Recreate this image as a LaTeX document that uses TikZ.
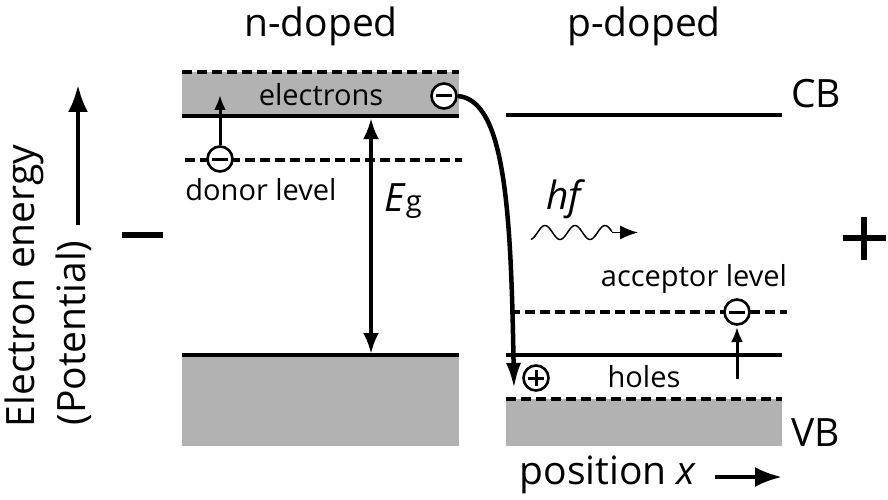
\documentclass[tikz,border=0pt]{standalone}
\usepackage{fontspec}
\setmainfont{Open Sans}
\usetikzlibrary{arrows.meta}
\definecolor{bandgray}{gray}{0.70}
\tikzset{
	level/.style={line width=4pt},
	dashlevel/.style={line width=3.6pt,dash pattern=on 10pt off 5pt},
	carrier/.style={circle,draw,fill=white,line width=2.6pt,minimum size=25pt,inner sep=0pt},
	thinarrow/.style={line width=3pt,-{Latex[length=15pt,width=12pt]}},
	bigarrow/.style={line width=4pt,-{Latex[length=27pt,width=20pt]}},
	lab/.style={inner sep=0pt,font=\fontsize{29}{29}\selectfont},
	biglab/.style={inner sep=0pt,font=\fontsize{39}{39}\selectfont}
}
\begin{document}
\begin{tikzpicture}[x=1pt,y=-1pt]
	\useasboundingbox (0,0) rectangle (888,500);
	% bands
	\fill[bandgray] (182,72) rectangle (459,116);
	\fill[bandgray] (182,355) rectangle (459,446);
	\fill[bandgray] (506,399) rectangle (782,446);
	% levels
	\draw[dashlevel] (182,72)--(459,72);
	\draw[level] (182,116)--(459,116);
	\draw[dashlevel] (185,160)--(462,160);
	\draw[level] (182,355)--(459,355);
	\draw[level] (506,115)--(782,115);
	\draw[dashlevel] (510,312)--(787,312);
	\draw[level] (506,355)--(782,355);
	\draw[dashlevel] (506,399)--(782,399);
	% carriers
	\node[carrier] (donor) at (220,159) {};
	\node[carrier] (elec) at (444,96) {};
	\node[carrier] (accept) at (737,312) {};
	\node[carrier] (hole) at (536,378) {};
	\foreach \c in {donor,elec,accept,hole}
		{\draw[line width=3pt] (\c.center) ++(-8,0)--++(16,0);};
	\draw[line width=3pt] (hole.center) ++(0,-8)--++(0,16);
	% labels
	\node[biglab] (ndoped) at (321,26) {n-doped};
	\node[biglab] (pdoped) at (644,26) {p-doped};
	\node[biglab] (cb) at (816,94) {CB};
	\node[biglab] (vb) at (816,433) {VB};
	\node[lab] (electrons) at (321,95) {electrons};
	\node[lab] (donorlab) at (261,190) {donor level};
	\node[lab] (acceptlab) at (694,279) {acceptor level};
	\node[lab] (holes) at (644,377) {holes};
	\node[biglab] (gap) at (403,201) {\textit{E}{\fontsize{29}{29}\selectfont g}};
	\node[biglab] (hf) at (566,199) {\textit{hf}};
	\node[biglab] (pos) at (608,475) {position \textit{x}};
	\node[biglab,rotate=90] (energy) at (24,286) {Electron energy};
	\node[biglab,rotate=90] (potential) at (74,333) {(Potential)};
	\node[inner sep=0pt] (minus) at (142,235) {\rule{41pt}{6pt}};
	\node[inner sep=0pt] (plus) at (864,238) {\rule{43pt}{6pt}};
	\node[inner sep=0pt] (plusb) at (plus.center) {\rule{6pt}{43pt}};
	% helper points
	\coordinate (upa) at (78,225);
	\coordinate (upb) at (78,85);
	\coordinate (posa) at (715,477);
	\coordinate (posb) at (782,477);
	\coordinate (gapa) at (371,118);
	\coordinate (gapb) at (371,354);
	\coordinate (donorb) at (220,95);
	\coordinate (acceptb) at (737,327);
	\coordinate (accepta) at (737,379);
	\coordinate (holeb) at (514,389);
	\coordinate (waveb) at (612,232.5);
	\coordinate (wavec) at (638,232.5);
	% arrows
	\draw[bigarrow] (upa)--(upb);
	\draw[bigarrow] (posa)--(posb);
	\draw[line width=4pt,{Latex[length=21pt,width=16pt]}-{Latex[length=21pt,width=16pt]}] (gapa)--(gapb);
	\draw[thinarrow] (donor)--(donorb);
	\draw[thinarrow] (accepta)--(acceptb);
	\draw[line width=4.5pt,-{Latex[length=26pt,width=15pt]}] (elec.east) .. controls (505,100) and (511,210) .. (holeb);
	\draw[line width=1.5pt] plot[domain=531:612,samples=80,smooth] (\x,{232.5-7*sin((\x-537.5)*12)});
	\draw[line width=1.5pt,-{Latex[length=18pt,width=14pt]}] (waveb)--(wavec);
\end{tikzpicture}
\end{document}
